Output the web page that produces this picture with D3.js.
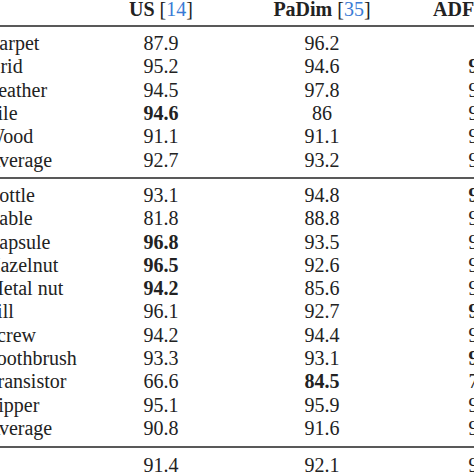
<!DOCTYPE html><html><head><meta charset="utf-8">
<script src="https://cdn.jsdelivr.net/npm/d3@7"></script>
<style>body{margin:0;background:#fff}text{font-family:"Liberation Serif","DejaVu Serif",serif;font-size:20px;fill:#222}</style>
</head><body><svg id="c" width="474" height="474"></svg><script>
const headers=["US","PaDim","ADF"];
const refs=["14","35",""];
const textureNames=["Carpet","Grid","Leather","Tile","Wood","Average"];
const textureUS=["87.9","95.2","94.5","94.6","91.1","92.7"];
const texturePaDim=["96.2","94.6","97.8","86","91.1","93.2"];
const textureADF=["","98.0","98.5","95.9","96.2","97.4"];
const objectNames=["Bottle","Cable","Capsule","Hazelnut","Metal nut","Pill","Screw","Toothbrush","Transistor","Zipper","Average"];
const objectUS=["93.1","81.8","96.8","96.5","94.2","96.1","94.2","93.3","66.6","95.1","90.8"];
const objectPaDim=["94.8","88.8","93.5","92.6","85.6","92.7","94.4","93.1","84.5","95.9","91.6"];
const objectADF=["98.0","93.2","94.0","94.3","93.8","97.6","94.9","98.1","79.1","96.0","93.9"];
const totalUS="91.4",totalPaDim="92.1",totalADF="94.5";
const boldUS=new Set(["Tile","Capsule","Hazelnut","Metal nut"]);
const boldPaDim=new Set(["Transistor"]);
const boldADF=new Set(["Grid","Bottle","Pill","Toothbrush"]);

const svg=d3.select("#c");
const rows=[];
textureNames.forEach((n,i)=>rows.push({n,v:[textureUS[i],texturePaDim[i],textureADF[i]]}));
objectNames.forEach((n,i)=>rows.push({n,v:[objectUS[i],objectPaDim[i],objectADF[i]]}));
rows.push({n:"Total Average",v:[totalUS,totalPaDim,totalADF],total:true});
const idx=rows.map((r,i)=>i+(i>=6?0.52:0)+(i>=17?0.6:0));
const y=d3.scaleLinear().domain([0,1]).range([50,73.3]);
const x=d3.scaleOrdinal().domain([0,1,2]).range([161,322,486]);
svg.append("text").attr("x",x(0)).attr("y",16).attr("text-anchor","middle").style("font-weight","bold")
  .html(`US <tspan style="font-weight:normal">[</tspan><tspan style="font-weight:normal;fill:#3a7bd5">${refs[0]}</tspan><tspan style="font-weight:normal">]</tspan>`);
svg.append("text").attr("x",x(1)).attr("y",16).attr("text-anchor","middle").style("font-weight","bold")
  .html(`PaDim <tspan style="font-weight:normal">[</tspan><tspan style="font-weight:normal;fill:#3a7bd5">${refs[1]}</tspan><tspan style="font-weight:normal">]</tspan>`);
svg.append("text").attr("x",433).attr("y",16).style("font-weight","bold").text("ADF");
[26,178,447].forEach(yy=>svg.append("line").attr("x1",0).attr("x2",474).attr("y1",yy).attr("y2",yy).attr("stroke","#222").attr("stroke-width",1.6));
rows.forEach((r,i)=>{
  const yy=y(idx[i]);
  if(!r.total) svg.append("text").attr("x",-14).attr("y",yy).text(r.n);
  r.v.forEach((v,j)=>{
    const b=[boldUS,boldPaDim,boldADF][j].has(r.n)&&!(r.n==="Average");
    svg.append("text").attr("x",x(j)).attr("y",yy).attr("text-anchor","middle").style("font-weight",b?"bold":"normal").text(v);
  });
});
</script></body></html>
